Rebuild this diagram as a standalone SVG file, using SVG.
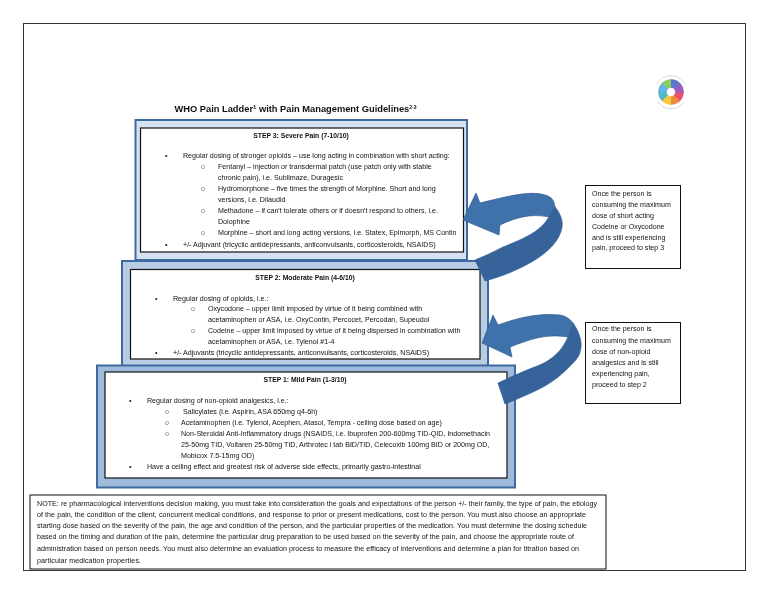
<svg xmlns="http://www.w3.org/2000/svg" width="768" height="594" viewBox="0 0 768 594">
<defs><filter id="soft" x="-5%" y="-30%" width="110%" height="160%"><feGaussianBlur stdDeviation="0.28"/></filter></defs>
<style>
text{font-family:"Liberation Sans",Arial,sans-serif;font-size:7.1px;fill:#111;filter:url(#soft)}
.h{font-weight:bold;text-anchor:middle;font-size:6.8px}
.o{fill:#777}
.outer{stroke:#3f6a9f;stroke-width:2}
.inner{fill:#fff;stroke:#111;stroke-width:1.2}
.side{fill:#fff;stroke:#111;stroke-width:1}
.arrow{fill:#3f72ab;stroke:#2f5d93;stroke-width:.7}
.dark{fill:#36639a;stroke:#2f5d93;stroke-width:.7}
.seg{fill:none;stroke-width:8.500}
.arc{fill:none;stroke:#aaa;stroke-width:.8;stroke-dasharray:1 .7}
</style>
<rect width="768" height="594" fill="#fff"/>
<rect x="23.500" y="23.500" width="722" height="547" fill="none" stroke="#333" stroke-width="1"/>
<text x="295.500" y="112" class="h" style="font-size:9.300px">WHO Pain Ladder<tspan dy="-3" font-size="6">1</tspan><tspan dy="3"> with Pain Management Guidelines</tspan><tspan dy="-3" font-size="5">2-3</tspan></text>
<g id="logo">
<circle class="seg" cx="671" cy="92" r="8.500" pathLength="8" stroke="#e8506e" stroke-dasharray="1.100 6.900" stroke-dashoffset="0"/>
<circle class="seg" cx="671" cy="92" r="8.500" pathLength="8" stroke="#f08a3c" stroke-dasharray="1.100 6.900" stroke-dashoffset="-1"/>
<circle class="seg" cx="671" cy="92" r="8.500" pathLength="8" stroke="#f5c842" stroke-dasharray="1.100 6.900" stroke-dashoffset="-2"/>
<circle class="seg" cx="671" cy="92" r="8.500" pathLength="8" stroke="#4fb8c9" stroke-dasharray="1.100 6.900" stroke-dashoffset="-3"/>
<circle class="seg" cx="671" cy="92" r="8.500" pathLength="8" stroke="#62b4e6" stroke-dasharray="1.100 6.900" stroke-dashoffset="-4"/>
<circle class="seg" cx="671" cy="92" r="8.500" pathLength="8" stroke="#8ccb5e" stroke-dasharray="1.100 6.900" stroke-dashoffset="-5"/>
<circle class="seg" cx="671" cy="92" r="8.500" pathLength="8" stroke="#5a78d0" stroke-dasharray="1.100 6.900" stroke-dashoffset="-6"/>
<circle class="seg" cx="671" cy="92" r="8.500" pathLength="8" stroke="#9a5cc0" stroke-dasharray="1.100 6.900" stroke-dashoffset="-7"/>
<path class="arc" d="M657 84A16 16 0 0 1 685 84"/>
<path class="arc" d="M658 102A16 16 0 0 0 684 102"/>
</g>
<g id="step3">
<rect class="outer" x="135.500" y="120" width="331.500" height="140" fill="#d4e2f2"/>
<rect class="inner" x="140.500" y="128" width="323" height="124"/>
<text x="301" y="138" class="h">STEP 3:  Severe Pain (7-10/10)</text>
<text x="165" y="158">•</text><text x="183" y="158">Regular dosing of stronger opioids – use long acting in combination with short acting:</text>
<text x="201" y="169" class="o">o</text><text x="218" y="169">Fentanyl – injection or transdermal patch (use patch only with stable</text>
<text x="218" y="180">chronic pain), i.e. Sublimaze, Duragesic</text>
<text x="201" y="191" class="o">o</text><text x="218" y="191">Hydromorphone – five times the strength of Morphine.  Short and long</text>
<text x="218" y="202">versions, i.e. Dilaudid</text>
<text x="201" y="213" class="o">o</text><text x="218" y="213">Methadone – if can't tolerate others or if doesn't respond to others, i.e.</text>
<text x="218" y="224">Dolophine</text>
<text x="201" y="235" class="o">o</text><text x="218" y="235">Morphine – short and long acting versions, i.e. Statex, Epimorph, MS Contin</text>
<text x="165" y="247">•</text><text x="183" y="247">+/- Adjuvant (tricyclic antidepressants, anticonvulsants, corticosteroids, NSAIDS)</text>
</g>
<g id="step2">
<rect class="outer" x="122" y="261" width="366" height="105" fill="#b8cde4"/>
<rect class="inner" x="130.500" y="269.500" width="349.500" height="89.500"/>
<text x="305" y="280" class="h">STEP 2:  Moderate Pain (4-6/10)</text>
<text x="155" y="301">•</text><text x="173" y="301">Regular dosing of opioids, i.e.:</text>
<text x="191" y="311" class="o">o</text><text x="208" y="311">Oxycodone – upper limit imposed by virtue of it being combined with</text>
<text x="208" y="322">acetaminophen or ASA, i.e. OxyContin, Percocet, Percodan, Supeudol</text>
<text x="191" y="333" class="o">o</text><text x="208" y="333">Codeine – upper limit imposed by virtue of it being dispersed in combination with</text>
<text x="208" y="344">acetaminophen or ASA, i.e. Tylenol #1-4</text>
<text x="155" y="355">•</text><text x="173" y="355">+/- Adjuvants (tricyclic antidepressants, anticonvulsants, corticosteroids, NSAIDS)</text>
</g>
<g id="step1">
<rect class="outer" x="97" y="365.500" width="418" height="122" fill="#9fbbdc"/>
<rect class="inner" x="105" y="372" width="402" height="106"/>
<text x="305" y="382" class="h">STEP 1:  Mild Pain (1-3/10)</text>
<text x="129" y="403">•</text><text x="147" y="403">Regular dosing of non-opioid analgesics, i.e.:</text>
<text x="165" y="414" class="o">o</text><text x="183" y="414">Salicylates (i.e. Aspirin, ASA 650mg q4-6h)</text>
<text x="165" y="425" class="o">o</text><text x="181" y="425">Acetaminophen (i.e. Tylenol, Acephen, Atasol, Tempra - ceiling dose based on age)</text>
<text x="165" y="436" class="o">o</text><text x="181" y="436">Non-Steroidal Anti-Inflammatory drugs (NSAIDS, i.e. Ibuprofen 200-600mg TID-QID, Indomethacin</text>
<text x="181" y="447">25-50mg TID, Voltaren 25-50mg TID, Arthrotec i tab BID/TID, Celecoxib 100mg BID or 200mg OD,</text>
<text x="181" y="458">Mobicox 7.5-15mg OD)</text>
<text x="129" y="469">•</text><text x="147" y="469">Have a ceiling effect and greatest risk of adverse side effects, primarily gastro-intestinal</text>
</g>
<g id="note">
<rect class="side" x="30" y="495" width="576" height="74"/>
<text x="37" y="505.500" textLength="560">NOTE: re pharmacological interventions decision making, you must take into consideration the goals and expectations of the person +/- their family, the type of pain, the etiology</text>
<text x="37" y="516.500" textLength="549">of the pain, the condition of the client, concurrent medical conditions, and response to prior or present medications, cost to the person.  You must also choose an appropriate</text>
<text x="37" y="528" textLength="550">starting dose based on the severity of the pain, the age and condition of the person, and the particular properties of the medication.  You must determine the dosing schedule</text>
<text x="37" y="539" textLength="537">based on the timing and duration of the pain, determine the particular drug preparation to be used based on the severity of the pain, and choose the appropriate route of</text>
<text x="37" y="550.500" textLength="542">administration based on person needs.  You must also determine an evaluation process to measure the efficacy of interventions and determine a plan for titration based on</text>
<text x="37" y="562.500" textLength="104">particular medication properties.</text>
</g>
<g id="connectors">
<path class="dark" d="M555 207C561 214 563 222 562 227C560 240 548 255 520 268C508 274 496 278 485 281L475 260C490 254 497 250 503 247C520 240 540 233 549 217Z"/>
<path class="arrow" d="M463 220L476 193L480 203C505 197 530 190 545 195C552 197 554 200 555 207L549 217C530 213 515 218 500 225L499 235Z"/>
<path class="dark" d="M573 323C578 330 582 340 581 347C580 355 578 358 573 363C562 375 552 382 543 387C530 394 517 399 505 404L498 383C508 378 518 374 527 370C540 365 558 360 568 337Z"/>
<path class="arrow" d="M482 343L493 315L498 325C520 317 540 313 560 315C566 316 570 319 573 323L568 337C555 335 545 336 537 338C528 340 518 344 510 347L512 357Z"/>
</g>
<g id="note-step3">
<rect class="side" x="585.500" y="185.500" width="95" height="83"/>
<text x="592" y="196">Once the person is</text><text x="592" y="207">consuming the maximum</text><text x="592" y="218">dose of short acting</text><text x="592" y="229">Codeine or Oxycodone</text><text x="592" y="240">and is still experiencing</text><text x="592" y="250">pain, proceed to step 3</text>
</g>
<g id="note-step2">
<rect class="side" x="585.500" y="322.500" width="95" height="81"/>
<text x="592" y="331">Once the person is</text><text x="592" y="343">consuming the maximum</text><text x="592" y="354">dose of non-opioid</text><text x="592" y="365">analgesics and is still</text><text x="592" y="376">experiencing pain,</text><text x="592" y="387">proceed to step 2</text>
</g>
</svg>
